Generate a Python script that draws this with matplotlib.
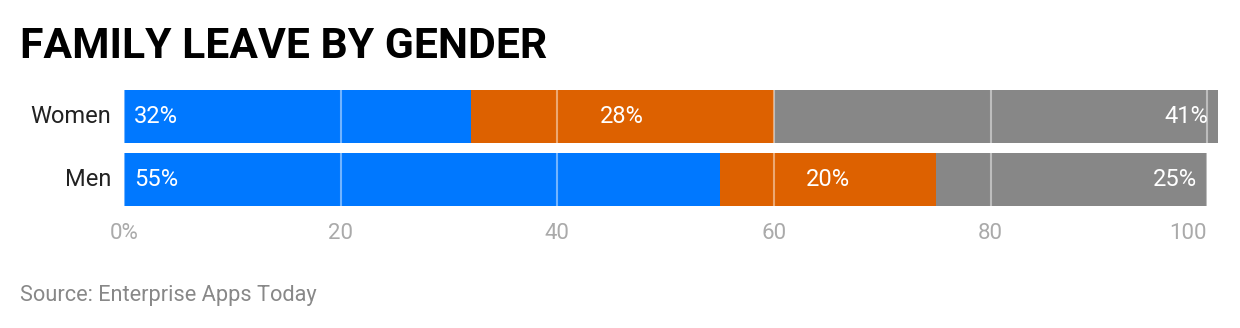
import matplotlib
matplotlib.use("Agg")
import matplotlib.pyplot as plt

plt.rcParams["font.family"] = ["Roboto", "DejaVu Sans"]

groups = ["Women", "Men"]
segments = ["Seg1", "Seg2", "Seg3"]
values = {
    "Seg1": [32, 55],
    "Seg2": [28, 20],
    "Seg3": [41, 25],
}
colors = ["#0078FF", "#DD6100", "#878787"]
xticks = [0, 20, 40, 60, 80, 100]
xticklabels = ["0%", "20", "40", "60", "80", "100"]

fig = plt.figure(figsize=(12.4, 3.28), dpi=100)
ax = fig.add_axes([124 / 1240, 1 - 206 / 328, 1094 / 1240, 116 / 328])

ypos = list(range(len(groups)))
left = [0] * len(groups)
for i, seg in enumerate(segments):
    vals = values[seg]
    ax.barh(ypos, vals, left=left, height=0.85, color=colors[i], zorder=1)
    for y, v, l in zip(ypos, vals, left):
        if i == 0:
            ax.text(l + 0.9, y, f"{v}%", ha="left", va="center", color="white", fontsize=17, zorder=3)
        elif i == len(segments) - 1:
            ax.text(l + v - 0.9, y, f"{v}%", ha="right", va="center", color="white", fontsize=17, zorder=3)
        else:
            ax.text(l + v / 2, y, f"{v}%", ha="center", va="center", color="white", fontsize=17, zorder=3)
    left = [a + b for a, b in zip(left, vals)]

for x in xticks:
    ax.axvline(x, color="white", alpha=0.45, lw=1.5, zorder=2)

ax.set_xlim(0, 101)
ax.set_ylim(len(groups) - 1 + 0.425, -0.425)
ax.set_yticks(ypos)
ax.set_yticklabels(groups, fontsize=17, color="#222222", va="center")
ax.set_xticks(xticks)
ax.set_xticklabels(xticklabels, fontsize=16, color="#AAAAAA")
ax.get_xticklabels()[-1].set_ha("right")
ax.tick_params(axis="x", length=0, pad=12)
ax.tick_params(axis="y", length=0, pad=9)
for s in ax.spines.values():
    s.set_visible(False)

fig.text(20 / 1240, 1 - 46 / 328, "FAMILY LEAVE BY GENDER", fontsize=30.7, fontweight="bold",
         color="black", ha="left", va="center")
fig.text(20 / 1240, 1 - 296 / 328, "Source: Enterprise Apps Today", fontsize=15.7,
         color="#888888", ha="left", va="center")

fig.savefig("out.png", dpi=100)
